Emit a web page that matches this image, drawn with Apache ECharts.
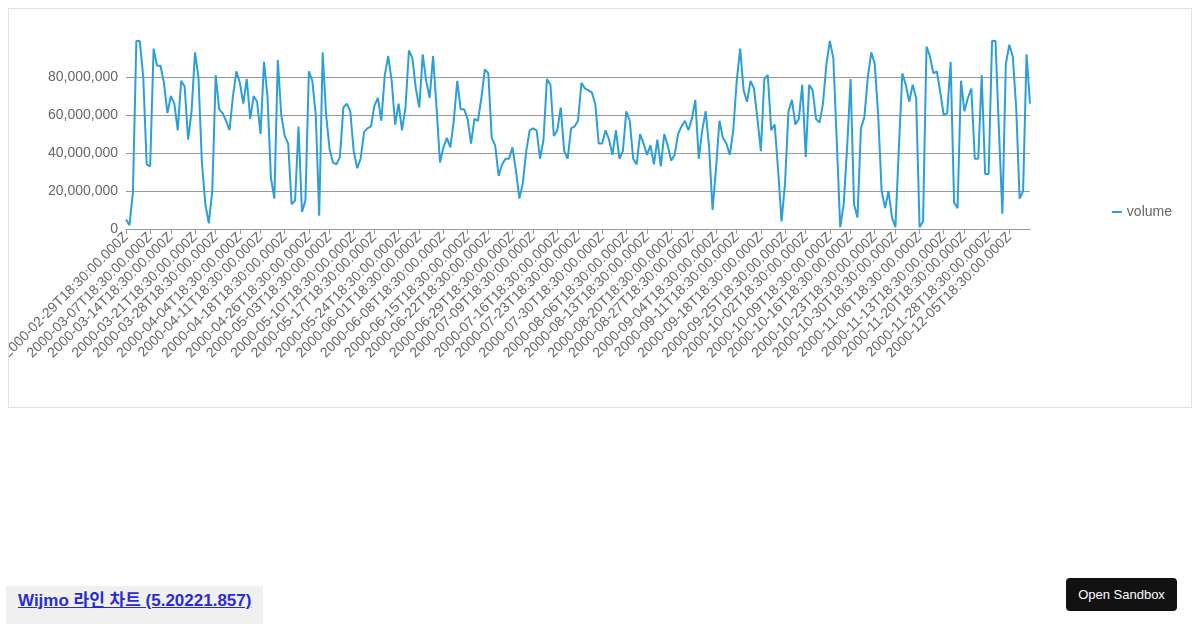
<!DOCTYPE html>
<html>
<head>
<meta charset="utf-8">
<script src="https://cdn.jsdelivr.net/npm/echarts@6/dist/echarts.min.js"></script>
<style>
  body { margin: 0; width: 1200px; height: 630px; background: #fff; font-family: "Liberation Sans", Arial, sans-serif; position: relative; }
  #box { position: absolute; left: 8px; top: 8px; width: 1182px; height: 398px; border: 1px solid #e2e2e2; }
  #chart { width: 100%; height: 100%; }
  #link { position: absolute; left: 6px; top: 586px; height: 38px; padding: 0 12px; background: #f0f0f0; line-height: 38px;
          font: bold 17px "Liberation Sans", "Noto Sans CJK KR", sans-serif; color: #2b2bd6; text-decoration: underline; }
  #btn { position: absolute; left: 1066px; top: 578px; width: 111px; height: 33px; background: #111; color: #fff; border-radius: 4px;
         font: 13px "Liberation Sans", sans-serif; line-height: 33px; text-align: center; }
</style>
</head>
<body>
<div id="box"><div id="chart"></div></div>
<div id="link">Wijmo 라인 차트 (5.20221.857)</div>
<div id="btn">Open Sandbox</div>
<script>
// tick labels, one per week
var tickDates = ['2000-02-29','2000-03-07','2000-03-14','2000-03-21','2000-03-28','2000-04-04','2000-04-11','2000-04-18',
  '2000-04-26','2000-05-03','2000-05-10','2000-05-17','2000-05-24','2000-06-01','2000-06-08','2000-06-15','2000-06-22',
  '2000-06-29','2000-07-09','2000-07-16','2000-07-23','2000-07-30','2000-08-06','2000-08-13','2000-08-20','2000-08-27',
  '2000-09-04','2000-09-11','2000-09-18','2000-09-25','2000-10-02','2000-10-09','2000-10-16','2000-10-23','2000-10-30',
  '2000-11-06','2000-11-13','2000-11-20','2000-11-28','2000-12-05'];

// volume, millions
var volume = [5,2,19,99,99,80,34,33,95,86,86,77,61,70,66,52,78,75,47,62,93,80,35,13,3,20,81,63,61,57,
  52,70,83,77,66,79,58,70,67,50,88,70,27,16,89,60,49,45,13,15,54,9,15,83,78,60,7,93,60,42,35,34,38,64,66,
  62,41,32,37,51,53,54,65,69,57,81,91,78,55,66,52,64,94,90,74,64,92,78,69,91,64,35,43,48,43,57,78,63,63,58,
  45,58,57,69,84,82,48,44,28,34,37,37,43,31,16,24,41,52,53,52,37,47,79,76,49,52,64,41,37,53,54,
  57,77,74,73,72,66,45,45,52,47,39,52,37,41,62,57,37,34,50,45,39,44,34,47,33,50,44,36,39,50,54,57,52,58,68,
  37,52,62,43,10,32,57,48,45,39,52,78,95,73,67,78,74,58,41,79,81,52,55,31,4,24,62,68,55,58,76,
  38,76,73,58,56,66,87,99,90,46,1,13,43,79,13,6,53,59,80,93,87,60,20,11,20,6,1,43,82,76,67,76,69,1,4,
  96,91,82,83,72,60,61,88,14,11,78,62,69,74,37,37,81,29,29,99,99,52,8,87,97,91,64,16,20,92,66];

var N = volume.length;
var cats = volume.map(function (v, i) { return i; });
var labelAt = {};
tickDates.forEach(function (d, k) { labelAt[Math.round(k * 22.7 / 905 * (N - 1))] = d + 'T18:30:00.000Z'; });

var chart = echarts.init(document.getElementById('chart'));
chart.setOption({
  animation: false,
  grid: { left: 117, right: 161, top: 32, height: 188, outerBoundsMode: 'none', containLabel: false },
  legend: {
    right: 14, top: 191, orient: 'vertical', icon: 'rect', itemWidth: 10, itemHeight: 2,
    textStyle: { color: '#666', fontSize: 14 }
  },
  xAxis: {
    type: 'category', data: cats, boundaryGap: false,
    axisLine: { lineStyle: { color: '#999' } },
    axisTick: { interval: function (i) { return labelAt[i] !== undefined; }, length: 5, lineStyle: { color: '#999' } },
    axisLabel: {
      interval: function (i) { return labelAt[i] !== undefined; },
      formatter: function (v, i) { return labelAt[i] || ''; },
      rotate: 45, color: '#666', fontSize: 14, margin: 6
    }
  },
  yAxis: {
    type: 'value', min: 0, max: 99000000, interval: 20000000,
    axisLabel: { showMaxLabel: false, color: '#666', fontSize: 14, formatter: function (v) { return v.toLocaleString('en-US'); } },
    splitLine: { lineStyle: { color: ['#999', '#999', '#999', '#999', '#999', 'rgba(0,0,0,0)'] } },
    axisLine: { show: false }, axisTick: { show: false }
  },
  series: [{
    name: 'volume', type: 'line', showSymbol: false,
    data: volume.map(function (v) { return v * 1000000; }),
    lineStyle: { color: '#2b9fd8', width: 2 }, itemStyle: { color: '#2b9fd8' }
  }]
});
</script>
</body>
</html>
